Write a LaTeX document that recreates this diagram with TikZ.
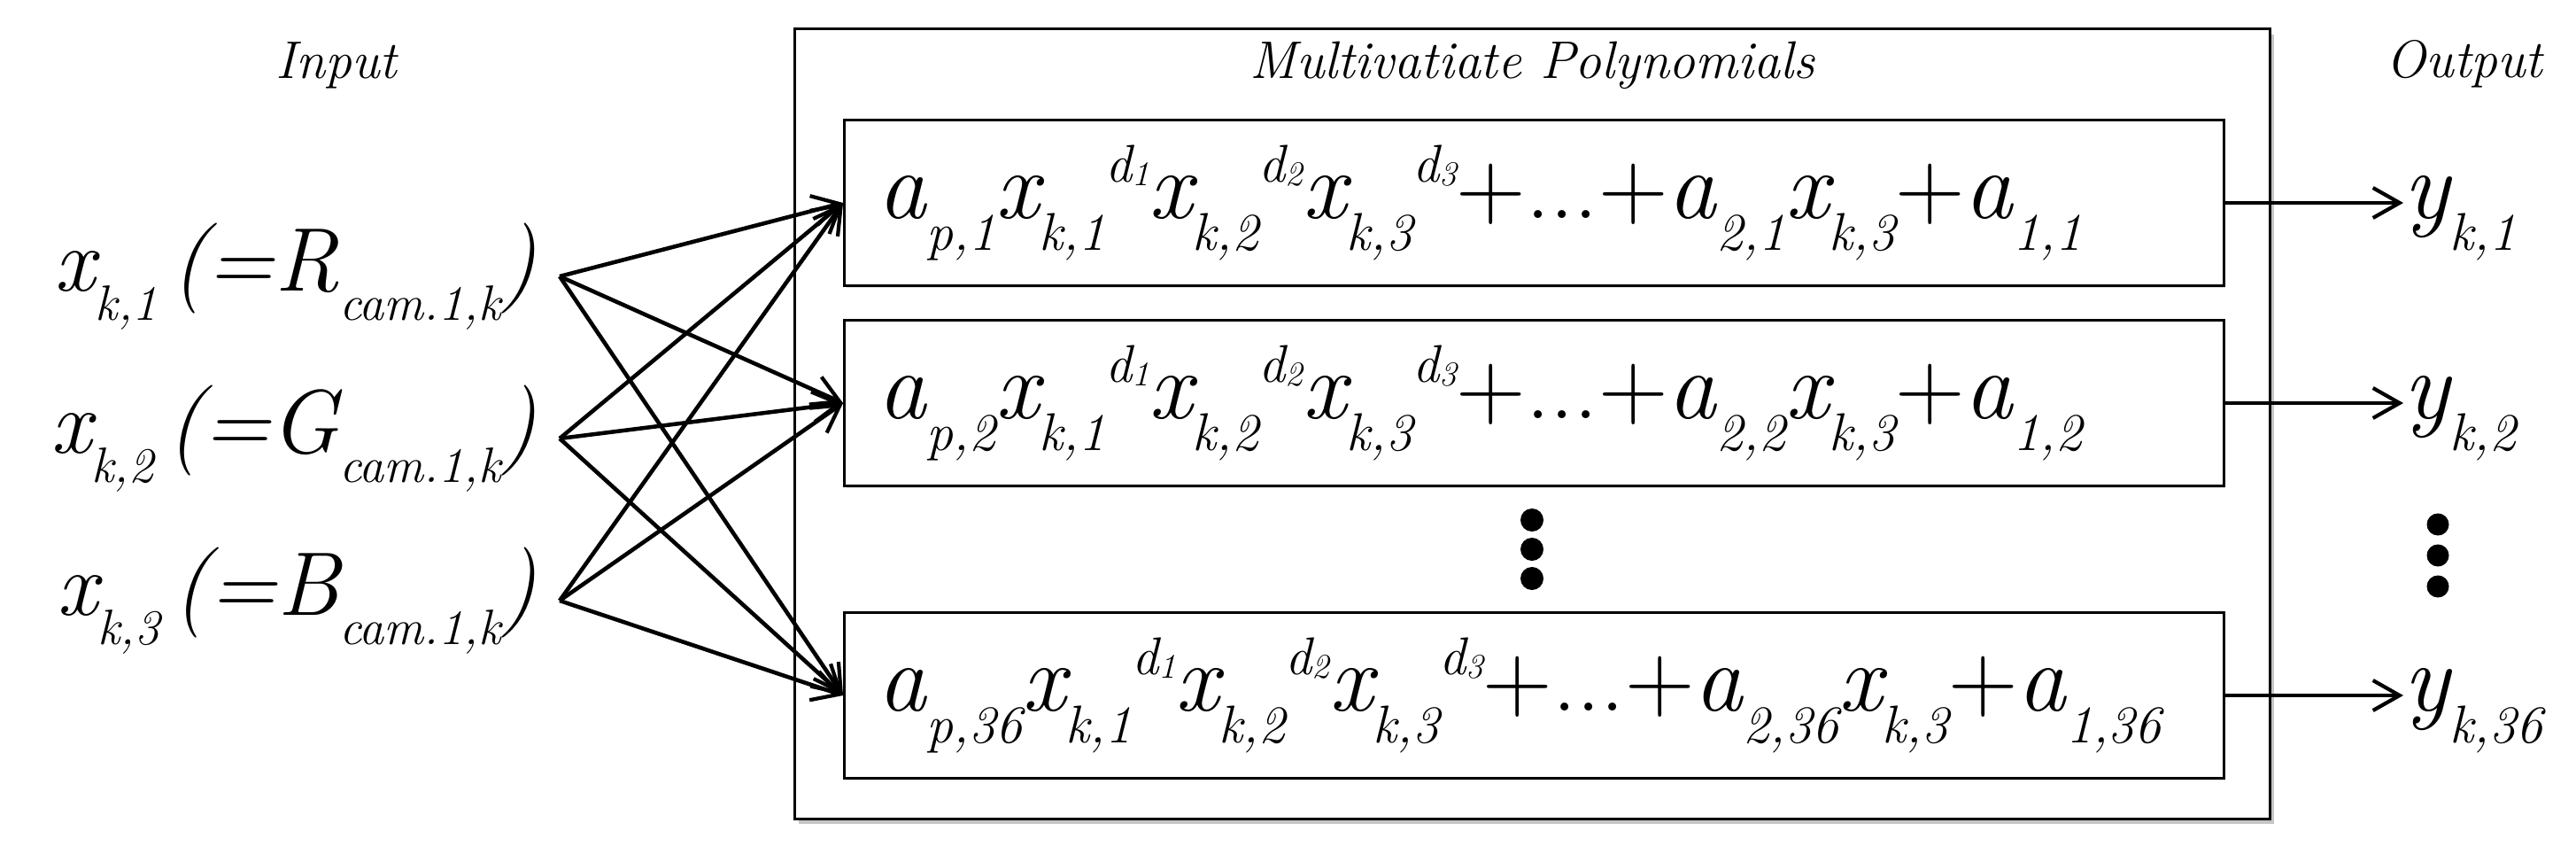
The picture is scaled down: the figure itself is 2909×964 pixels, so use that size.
\documentclass[tikz,border=0pt]{standalone}
\usepackage{graphicx}
\usetikzlibrary{arrows.meta, shadows}

% lowered index and raised power, as in the figure
\newcommand{\lo}[1]{\raisebox{-0.33em}{\scalebox{0.55}{#1}}}
\newcommand{\hi}[2]{\raisebox{0.38em}{\scalebox{0.55}{#1}\raisebox{-0.04em}{\scalebox{0.36}{#2}}}}
\newcommand{\polyrow}[1]{a\lo{p,#1}x\lo{k,1}\hi{d}{1}x\lo{k,2}\hi{d}{2}x\lo{k,3}\hi{d}{3}\textup{+...+}a\lo{2,#1}x\lo{k,3}\textup{+}a\lo{1,#1}}

\begin{document}
\begin{tikzpicture}[x=0.01cm, y=-0.01cm,
    title/.style={font=\itshape\fontsize{17}{20}\selectfont},
    mathlabel/.style={font=\itshape\fontsize{31}{38}\selectfont, inner sep=0pt},
    inlabel/.style={font=\itshape\fontsize{29}{36}\selectfont, inner sep=0pt, inner xsep=0.25cm, anchor=east},
    outerbox/.style={draw, line width=0.9pt, fill=white, minimum width=16.65cm, minimum height=8.91cm,
      drop shadow={shadow xshift=0.04cm, shadow yshift=-0.06cm, fill=black!45, opacity=0.5}},
    polybox/.style={draw, line width=0.85pt, fill=white, minimum height=1.86cm, text width=14.81cm,
      inner xsep=0.38cm, align=left, font=\itshape\fontsize{31}{38}\selectfont,
      drop shadow={shadow xshift=0.02cm, shadow yshift=-0.03cm, fill=black!30, opacity=0.4}},
    link/.style={line width=1.3pt, -{Straight Barb[length=0.3cm, width=0.34cm, line width=1.2pt]}}]
  \useasboundingbox (0,0) rectangle (2909,964);

  % titles
  \node[title] (tin) at (380,74) {Input};
  \node[title] (tout) at (2783,72) {Output};

  % polynomial block
  \node[outerbox] (poly) at (1730.5,478.5) {};
  \node[title] (tpoly) at (1730.5,74) {Multivatiate Polynomials};
  \node[polybox] (p1) at (1732.5,229) {\polyrow{1}};
  \node[polybox] (p2) at (1732.5,455) {\polyrow{2}};
  \node[polybox] (p36) at (1732.5,785) {\polyrow{36}};
  \fill (1730,587) circle (0.13cm) (1730,620) circle (0.13cm) (1730,653) circle (0.13cm);

  % inputs
  \node[inlabel] (x1) at (632,312) {x\lo{k,1}\hspace{0.15em}(=R\lo{cam.1,k})};
  \node[inlabel] (x2) at (632,495) {x\lo{k,2}\hspace{0.15em}(=G\lo{cam.1,k})};
  \node[inlabel] (x3) at (632,678) {x\lo{k,3}\hspace{0.15em}(=B\lo{cam.1,k})};

  % outputs
  \node[mathlabel, anchor=west] (y1) at (2714,246) {y\lo{k,1}};
  \node[mathlabel, anchor=west] (y2) at (2714,472) {y\lo{k,2}};
  \node[mathlabel, anchor=west] (y36) at (2714,802) {y\lo{k,36}};
  \fill (2753,592) circle (0.125cm) (2753,627) circle (0.125cm) (2753,662) circle (0.125cm);

  % every input feeds every polynomial
  \draw[link] (x1.east) -- (p1.west);
  \draw[link] (x1.east) -- (p2.west);
  \draw[link] (x1.east) -- (p36.west);
  \draw[link] (x2.east) -- (p1.west);
  \draw[link] (x2.east) -- (p2.west);
  \draw[link] (x2.east) -- (p36.west);
  \draw[link] (x3.east) -- (p1.west);
  \draw[link] (x3.east) -- (p2.west);
  \draw[link] (x3.east) -- (p36.west);

  \draw[link] (p1.east) -- (p1.east -| y1.west);
  \draw[link] (p2.east) -- (p2.east -| y2.west);
  \draw[link] (p36.east) -- (p36.east -| y36.west);
\end{tikzpicture}
\end{document}
